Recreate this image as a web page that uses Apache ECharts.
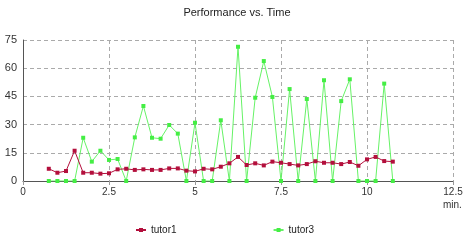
<!DOCTYPE html>
<html><head><meta charset="utf-8">
<script src="https://cdn.jsdelivr.net/npm/echarts@6/dist/echarts.min.js"></script>
<style>html,body{margin:0;padding:0;background:#fff}#c{width:474px;height:245px}</style>
</head><body><div id="c"></div>
<script>
const times = [0.75,1.0,1.25,1.5,1.75,2.0,2.25,2.5,2.75,3.0,3.25,3.5,3.75,4.0,4.25,4.5,4.75,5.0,5.25,5.5,5.75,6.0,6.25,6.5,6.75,7.0,7.25,7.5,7.75,8.0,8.25,8.5,8.75,9.0,9.25,9.5,9.75,10.0,10.25,10.5,10.75];
const tutor1 = [6.5,4.4,5.3,16.1,4.4,4.4,3.9,4.1,6.2,6.5,5.9,6.2,5.9,5.9,6.7,6.7,5.5,5.1,6.5,6.2,7.6,9.4,12.8,8.5,9.4,8.3,10.3,9.7,9.0,8.3,9.0,10.5,9.7,9.7,9.0,10.1,8.1,11.5,12.8,10.6,10.3];
const tutor3 = [0,0,0,0,23,10.3,16.1,11.2,11.7,0,23.2,39.9,23,22.5,29.8,25.2,0,31,0,0,32.3,0,71.4,0,44.3,63.8,44.7,0,48.9,0,43.6,0,53.6,0,42.5,54.1,0,0,0,51.8,0];
const xTicks = ['0','2.5','5','7.5','10','12.5'];
const yTicks = [0,15,30,45,60,75];
const chart = echarts.init(document.getElementById('c'));
const font = 'Liberation Sans, Arial, sans-serif';
const pair = arr => times.map((t,i)=>[t,arr[i]]);
chart.setOption({
  animation:false,
  textStyle:{fontFamily:font},
  title:{text:'Performance vs. Time',left:'center',top:2,textStyle:{fontSize:11,fontWeight:'normal',color:'#222',fontFamily:font}},
  grid:{left:23,right:21,top:40,bottom:64,containLabel:false},
  legend:{bottom:5,left:130,itemGap:96,itemWidth:10,itemHeight:5,textStyle:{fontSize:10,color:'#222',fontFamily:font},data:['tutor1','tutor3']},
  xAxis:{type:'value',min:0,max:12.5,interval:2.5,
    name:'min.',nameLocation:'end',nameGap:-10,nameTextStyle:{fontSize:10,color:'#333',verticalAlign:'top',padding:[19,0,0,0]},
    axisLine:{show:true,lineStyle:{color:'#555',width:1}},
    axisTick:{show:true,length:4,lineStyle:{color:'#999'}},
    axisLabel:{fontSize:10,color:'#333',margin:6,formatter:(v)=>{const s=xTicks.find(t=>parseFloat(t)===v);return s!==undefined?s:'';}},
    splitLine:{show:true,lineStyle:{color:'#aaa',type:[4,3]}}},
  yAxis:{type:'value',min:0,max:75,interval:15,
    axisLine:{show:true,lineStyle:{color:'#555',width:1}},
    axisTick:{show:false},
    axisLabel:{fontSize:11,color:'#333',margin:6,formatter:(v)=>yTicks.includes(v)?String(v):''},
    splitLine:{show:true,lineStyle:{color:'#aaa',type:[4,3]}}},
  series:[
    {name:'tutor1',type:'line',data:pair(tutor1),symbol:'rect',symbolSize:4,z:3,
      itemStyle:{color:'#b30f3c'},lineStyle:{color:'#b30f3c',width:1}},
    {name:'tutor3',type:'line',data:pair(tutor3),symbol:'rect',symbolSize:4,z:2,
      itemStyle:{color:'#44ee44'},lineStyle:{color:'#66f266',width:1}}
  ]
});
</script></body></html>
